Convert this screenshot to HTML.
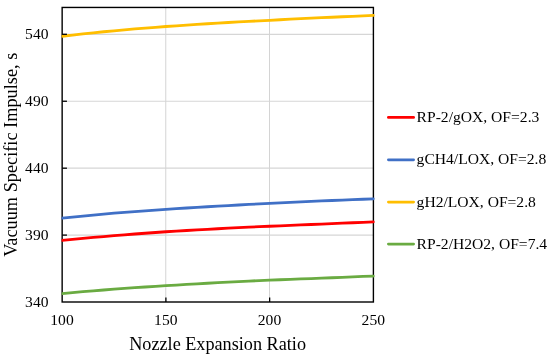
<!DOCTYPE html>
<html><head><meta charset="utf-8"><title>Vacuum Specific Impulse vs Nozzle Expansion Ratio</title>
<style>
html,body{margin:0;padding:0;background:#fff;}
svg{display:block;font-family:"Liberation Serif",serif;fill:#000;}
</style></head><body>
<svg width="550" height="358" viewBox="0 0 550 358">
<rect width="550" height="358" fill="#fff"/>
<g stroke="#D6D6D6" stroke-width="1.2"><line x1="62.15" x2="373.4" y1="34.3" y2="34.3"/><line x1="62.15" x2="373.4" y1="101.25" y2="101.25"/><line x1="62.15" x2="373.4" y1="168.2" y2="168.2"/><line x1="62.15" x2="373.4" y1="235.1" y2="235.1"/><line x1="165.75" x2="165.75" y1="7.45" y2="302.0" stroke="#D4D4D4" stroke-width="1"/><line x1="269.50" x2="269.50" y1="7.45" y2="302.0" stroke="#D4D4D4" stroke-width="1"/></g>
<rect x="62.15" y="7.45" width="311.25" height="294.55" fill="none" stroke="#000" stroke-width="1.4"/>
<clipPath id="c"><rect x="61.55" y="0" width="313.25" height="358"/></clipPath>
<g clip-path="url(#c)"><path d="M62.15,293.53 L72.53,292.56 L82.90,291.65 L93.28,290.79 L103.65,289.98 L114.03,289.20 L124.40,288.43 L134.78,287.69 L145.15,286.99 L155.53,286.31 L165.90,285.67 L176.27,285.05 L186.65,284.45 L197.03,283.87 L207.40,283.27 L217.78,282.68 L228.15,282.11 L238.53,281.56 L248.90,281.08 L259.27,280.63 L269.65,280.19 L280.02,279.76 L290.40,279.35 L300.78,278.94 L311.15,278.56 L321.52,278.18 L331.90,277.76 L342.27,277.32 L352.65,276.89 L363.02,276.47 L373.40,276.06" fill="none" stroke="#6AAB42" stroke-width="2.8" stroke-linecap="round" stroke-linejoin="round"/><path d="M62.15,36.24 L72.53,35.03 L82.90,33.88 L93.28,32.79 L103.65,31.76 L114.03,30.78 L124.40,29.85 L134.78,28.96 L145.15,28.11 L155.53,27.30 L165.90,26.52 L176.27,25.78 L186.65,25.08 L197.03,24.40 L207.40,23.75 L217.78,23.12 L228.15,22.52 L238.53,21.93 L248.90,21.37 L259.27,20.82 L269.65,20.29 L280.02,19.75 L290.40,19.22 L300.78,18.70 L311.15,18.20 L321.52,17.71 L331.90,17.24 L342.27,16.77 L352.65,16.32 L363.02,15.88 L373.40,15.45" fill="none" stroke="#FFBE00" stroke-width="2.8" stroke-linecap="round" stroke-linejoin="round"/><path d="M62.15,218.17 L72.53,217.09 L82.90,216.05 L93.28,215.07 L103.65,214.12 L114.03,213.23 L124.40,212.40 L134.78,211.60 L145.15,210.83 L155.53,210.09 L165.90,209.37 L176.27,208.69 L186.65,208.02 L197.03,207.38 L207.40,206.75 L217.78,206.15 L228.15,205.56 L238.53,205.00 L248.90,204.44 L259.27,203.91 L269.65,203.38 L280.02,202.88 L290.40,202.38 L300.78,201.90 L311.15,201.43 L321.52,200.97 L331.90,200.52 L342.27,200.08 L352.65,199.65 L363.02,199.23 L373.40,198.82" fill="none" stroke="#4070C6" stroke-width="2.8" stroke-linecap="round" stroke-linejoin="round"/><path d="M62.15,240.47 L72.53,239.40 L82.90,238.40 L93.28,237.46 L103.65,236.58 L114.03,235.72 L124.40,234.85 L134.78,234.02 L145.15,233.24 L155.53,232.49 L165.90,231.77 L176.27,231.11 L186.65,230.48 L197.03,229.88 L207.40,229.30 L217.78,228.74 L228.15,228.21 L238.53,227.69 L248.90,227.20 L259.27,226.72 L269.65,226.26 L280.02,225.81 L290.40,225.38 L300.78,224.97 L311.15,224.49 L321.52,224.03 L331.90,223.59 L342.27,223.15 L352.65,222.73 L363.02,222.31 L373.40,221.91" fill="none" stroke="#FF0000" stroke-width="2.8" stroke-linecap="round" stroke-linejoin="round"/></g>
<g stroke="#000" stroke-width="1.3"><line x1="62.15" x2="66.95" y1="34.3" y2="34.3"/><line x1="62.15" x2="66.95" y1="101.25" y2="101.25"/><line x1="62.15" x2="66.95" y1="168.2" y2="168.2"/><line x1="62.15" x2="66.95" y1="235.1" y2="235.1"/><line x1="165.90" x2="165.90" y1="302.0" y2="297.6"/><line x1="269.65" x2="269.65" y1="302.0" y2="297.6"/></g>
<g font-size="15.6px"><text x="48.5" y="39.3" text-anchor="end">540</text><text x="48.5" y="106.2" text-anchor="end">490</text><text x="48.5" y="173.2" text-anchor="end">440</text><text x="48.5" y="240.1" text-anchor="end">390</text><text x="48.5" y="307.0" text-anchor="end">340</text><text x="62.0" y="325.1" text-anchor="middle">100</text><text x="165.8" y="325.1" text-anchor="middle">150</text><text x="269.5" y="325.1" text-anchor="middle">200</text><text x="373.3" y="325.1" text-anchor="middle">250</text><line x1="388.4" x2="413.6" y1="117.4" y2="117.4" stroke="#FF0000" stroke-width="2.8" stroke-linecap="round"/><text x="416.6" y="122.4">RP-2/gOX, OF=2.3</text><line x1="388.4" x2="413.6" y1="159.8" y2="159.8" stroke="#4070C6" stroke-width="2.8" stroke-linecap="round"/><text x="416.6" y="164.35">gCH4/LOX, OF=2.8</text><line x1="388.4" x2="413.6" y1="202.1" y2="202.1" stroke="#FFBE00" stroke-width="2.8" stroke-linecap="round"/><text x="416.6" y="206.5">gH2/LOX, OF=2.8</text><line x1="388.4" x2="413.6" y1="244.1" y2="244.1" stroke="#6AAB42" stroke-width="2.8" stroke-linecap="round"/><text x="416.6" y="248.5">RP-2/H2O2, OF=7.4</text></g>
<text x="217.6" y="350" font-size="18.2px" text-anchor="middle">Nozzle Expansion Ratio</text>
<text transform="translate(17.3,154.8) rotate(-90)" font-size="18.3px" text-anchor="middle">Vacuum Specific Impulse, s</text>
</svg>
</body></html>
